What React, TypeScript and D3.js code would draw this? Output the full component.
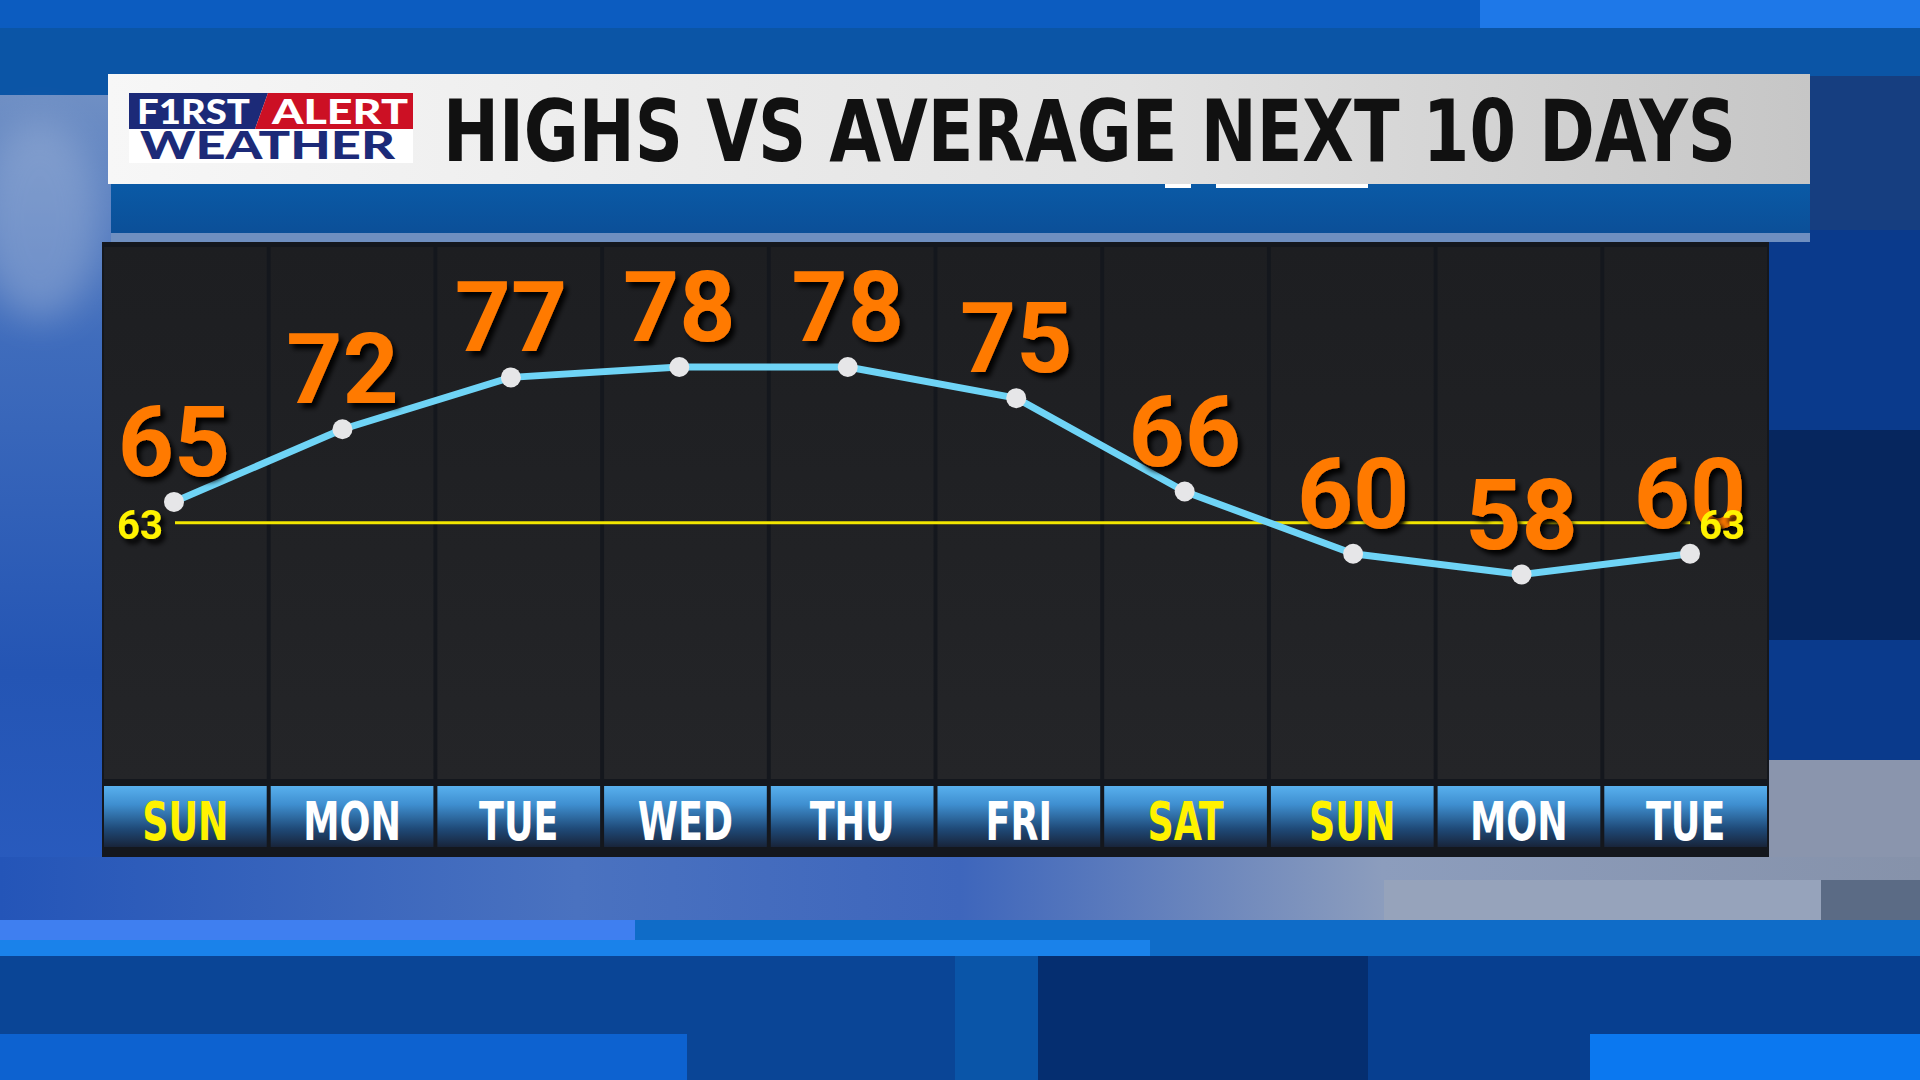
import React from "react";
import * as d3 from "d3";

const days = ["SUN", "MON", "TUE", "WED", "THU", "FRI", "SAT", "SUN", "MON", "TUE"];
const highs = [65, 72, 77, 78, 78, 75, 66, 60, 58, 60];
const weekend = [true, false, false, false, false, false, true, true, false, false];
const average = 63;
const titleText = "HIGHS VS AVERAGE NEXT 10 DAYS";
const logoTop = ["F1RST", "ALERT"];
const logoBottom = "WEATHER";

const W = 1920;
const H = 1080;

const panel = { x0: 102, x1: 1769, y0: 242, y1: 857 };
const plotBottom = 779;
const strip = { y0: 786, y1: 847 };

export default function App() {
  const idx = d3.range(days.length);
  const xBand = d3.scaleBand<number>().domain(idx).range([panel.x0, panel.x1]);
  const xPt = d3.scalePoint<number>().domain(idx).range([174, 1690]);
  const y = d3.scaleLinear().domain([58, 78]).range([574.5, 367]);

  const line = d3
    .line<number>()
    .x((_, i) => xPt(i) as number)
    .y((d) => y(d))
    .curve(d3.curveLinear);

  const bw = xBand.bandwidth();
  const avgY = y(average);

  return (
    <svg
      width={W}
      height={H}
      viewBox={`0 0 ${W} ${H}`}
      style={{ position: "fixed", left: 0, top: 0, display: "block" }}
    >
      <defs>
        <linearGradient id="leftCloud" x1="0" y1="0" x2="0" y2="1">
          <stop offset="0" stopColor="#6f8fc4" />
          <stop offset="0.3" stopColor="#3f6cbc" />
          <stop offset="0.7" stopColor="#2455b4" />
          <stop offset="1" stopColor="#2a5cc0" />
        </linearGradient>
        <linearGradient id="header" x1="0" y1="0" x2="1" y2="0">
          <stop offset="0" stopColor="#f7f7f7" />
          <stop offset="0.6" stopColor="#e2e2e2" />
          <stop offset="1" stopColor="#c6c6c6" />
        </linearGradient>
        <linearGradient id="band" x1="0" y1="0" x2="0" y2="1">
          <stop offset="0" stopColor="#0a5aa6" />
          <stop offset="1" stopColor="#0b4f98" />
        </linearGradient>
        <linearGradient id="belowPanel" x1="0" y1="0" x2="1" y2="0">
          <stop offset="0" stopColor="#2455b8" />
          <stop offset="0.3" stopColor="#4a72c0" />
          <stop offset="0.5" stopColor="#3e66bc" />
          <stop offset="0.72" stopColor="#8c9dbd" />
          <stop offset="1" stopColor="#8692aa" />
        </linearGradient>
        <linearGradient id="col" x1="0" y1="0" x2="0" y2="1">
          <stop offset="0" stopColor="#1d1e21" />
          <stop offset="1" stopColor="#242528" />
        </linearGradient>
        <linearGradient id="cell" x1="0" y1="0" x2="0" y2="1">
          <stop offset="0" stopColor="#58b0ee" />
          <stop offset="0.3" stopColor="#3f8fd0" />
          <stop offset="0.7" stopColor="#1f4a78" />
          <stop offset="1" stopColor="#18243a" />
        </linearGradient>
        <filter id="shadow" x="-20%" y="-20%" width="150%" height="150%">
          <feDropShadow dx="4" dy="5" stdDeviation="2.5" floodColor="#000" floodOpacity="0.95" />
        </filter>
        <filter id="soft" x="-50%" y="-50%" width="200%" height="200%">
          <feGaussianBlur stdDeviation="18" />
        </filter>
      </defs>

      {/* background */}
      <rect x={0} y={0} width={W} height={H} fill="#0a3f92" />
      <rect x={0} y={0} width={W} height={95} fill="#0b55a6" />
      <rect x={0} y={0} width={1810} height={28} fill="#0c5cc0" />
      <rect x={1480} y={0} width={440} height={28} fill="#1e78e8" />
      <rect x={1810} y={76} width={110} height={154} fill="#163e80" />
      <rect x={1769} y={230} width={151} height={200} fill="#0a3a8c" />
      <rect x={1769} y={430} width={151} height={210} fill="#06265e" />
      <rect x={1769} y={640} width={151} height={120} fill="#0a3a8c" />
      <rect x={1769} y={760} width={151} height={160} fill="#8a95ad" />
      <rect x={0} y={95} width={111} height={825} fill="url(#leftCloud)" />
      <ellipse cx={40} cy={220} rx={60} ry={100} fill="#a9bcdc" opacity={0.4} filter="url(#soft)" />

      {/* bottom blocks */}
      <rect x={0} y={857} width={W} height={63} fill="url(#belowPanel)" />
      <rect x={1384} y={880} width={437} height={40} fill="#96a3bb" />
      <rect x={1821} y={880} width={99} height={40} fill="#5b6b85" />
      <rect x={0} y={920} width={W} height={36} fill="#0f6cc8" />
      <rect x={0} y={920} width={635} height={20} fill="#3f7ff0" />
      <rect x={0} y={940} width={1150} height={16} fill="#1a82ea" />
      <rect x={0} y={956} width={955} height={124} fill="#0a4596" />
      <rect x={955} y={956} width={83} height={124} fill="#0a55a8" />
      <rect x={1038} y={956} width={330} height={124} fill="#052e70" />
      <rect x={1368} y={956} width={552} height={124} fill="#073f90" />
      <rect x={0} y={1034} width={687} height={46} fill="#0d62d0" />
      <rect x={1590} y={1034} width={330} height={46} fill="#0b78f0" />

      {/* header */}
      <rect x={111} y={184} width={1699} height={49} fill="url(#band)" />
      <rect x={111} y={233} width={1699} height={9} fill="#6f8fc0" />
      <rect x={108} y={74} width={1702} height={110} fill="url(#header)" />
      <rect x={1165} y={184} width={26} height={4} fill="#ffffff" />
      <rect x={1216} y={184} width={152} height={4} fill="#ffffff" />

      {/* logo */}
      <rect x={129} y={93} width={284} height={70} fill="#ffffff" />
      <polygon points="129,93 268,93 255,129 129,129" fill="#1c2a78" />
      <polygon points="268,93 413,93 413,129 255,129" fill="#cc1024" />
      <text
        x={137}
        y={124}
        fontFamily="Lato, 'DejaVu Sans', sans-serif"
        fontWeight={900}
        fontSize={35}
        fill="#ffffff"
        textLength={113}
        lengthAdjust="spacingAndGlyphs"
      >
        {logoTop[0]}
      </text>
      <text
        x={272}
        y={124}
        fontFamily="Lato, 'DejaVu Sans', sans-serif"
        fontWeight={900}
        fontSize={35}
        fill="#ffffff"
        textLength={136}
        lengthAdjust="spacingAndGlyphs"
      >
        {logoTop[1]}
      </text>
      <text
        x={140}
        y={159}
        fontFamily="Lato, 'DejaVu Sans', sans-serif"
        fontWeight={900}
        fontSize={38}
        fill="#1c2a78"
        textLength={255}
        lengthAdjust="spacingAndGlyphs"
      >
        {logoBottom}
      </text>

      {/* title */}
      <text
        x={443}
        y={161}
        fontFamily="'Liberation Sans Narrow', 'DejaVu Sans Condensed', sans-serif"
        fontWeight={700}
        fontSize={86}
        fill="#111111"
        textLength={1293}
        lengthAdjust="spacingAndGlyphs"
      >
        {titleText}
      </text>

      {/* panel */}
      <rect x={panel.x0} y={panel.y0} width={panel.x1 - panel.x0} height={panel.y1 - panel.y0} fill="#14171d" />
      {idx.map((i) => (
        <g key={`col-${i}`}>
          <rect
            x={(xBand(i) as number) + 2}
            y={panel.y0 + 5}
            width={bw - 4}
            height={plotBottom - panel.y0 - 5}
            fill="url(#col)"
          />
          <rect
            x={(xBand(i) as number) + 2}
            y={strip.y0}
            width={bw - 4}
            height={strip.y1 - strip.y0}
            fill="url(#cell)"
          />
          <text
            transform={`translate(${(xBand(i) as number) + bw / 2},${840}) scale(0.75,1)`}
            textAnchor="middle"
            fontFamily="'Liberation Sans Narrow', 'DejaVu Sans Condensed', sans-serif"
            fontWeight={700}
            fontSize={54}
            fill={weekend[i] ? "#fff200" : "#ffffff"}
          >
            {days[i]}
          </text>
        </g>
      ))}

      {/* average line */}
      <line x1={175} x2={1690} y1={avgY} y2={avgY} stroke="#f2e600" strokeWidth={3} />
      <text
        x={140}
        y={539}
        textAnchor="middle"
        fontFamily="Roboto, sans-serif"
        fontWeight={700}
        fontSize={40}
        fill="#fff200"
        filter="url(#shadow)"
      >
        {average}
      </text>

      {/* highs line */}
      <path d={line(highs) as string} fill="none" stroke="#6fd4f6" strokeWidth={7} strokeLinejoin="round" />
      {highs.map((v, i) => (
        <circle key={`pt-${i}`} cx={xPt(i) as number} cy={y(v)} r={10} fill="#e6e6e8" />
      ))}

      {/* value labels */}
      {highs.map((v, i) => (
        <text
          key={`lbl-${i}`}
          x={xPt(i) as number}
          y={y(v) - 26}
          textAnchor="middle"
          fontFamily="Roboto, sans-serif"
          fontWeight={700}
          fontSize={98}
          fill="#ff7a00"
          filter="url(#shadow)"
        >
          {v}
        </text>
      ))}

      <text
        x={1722}
        y={539}
        textAnchor="middle"
        fontFamily="Roboto, sans-serif"
        fontWeight={700}
        fontSize={40}
        fill="#fff200"
        filter="url(#shadow)"
      >
        {average}
      </text>
    </svg>
  );
}
